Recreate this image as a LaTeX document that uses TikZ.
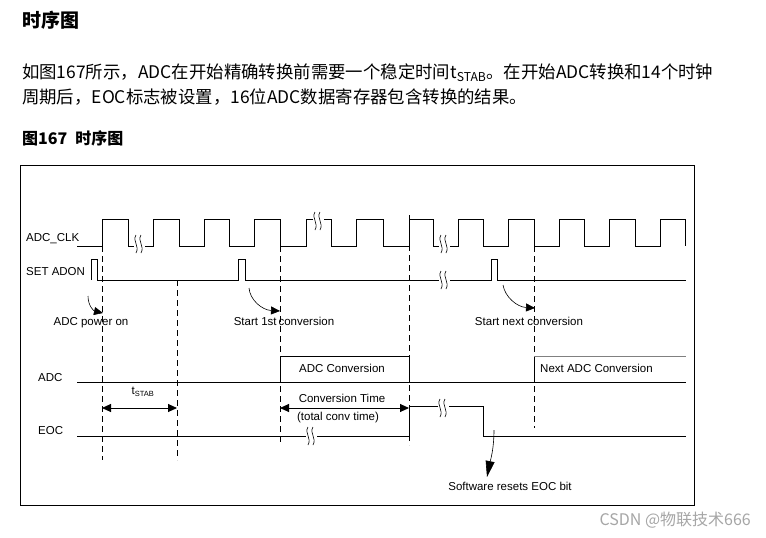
\documentclass[tikz,border=0pt]{standalone}
\usepackage{fontspec}
\setmainfont{Liberation Sans}
\newfontfamily\cjk{Noto Sans CJK SC}
\usetikzlibrary{arrows.meta}
\begin{document}
\begin{tikzpicture}[x=1pt,y=-1pt,
  sig/.style={line width=0.8pt},
  dline/.style={line width=0.7pt,dash pattern=on 6pt off 4pt},
  lbl/.style={font=\fontsize{11.5}{12}\selectfont,inner sep=0pt},
  dim/.style={line width=0.9pt,{Triangle[length=9pt,width=8pt]}-{Triangle[length=9pt,width=8pt]}},
  carr/.style={line width=0.6pt,-{Triangle[length=9pt,width=8pt]}},
  brk/.pic={\draw[line width=0.6pt,fill=white,draw=white] (-3,-9) rectangle (7,9);
            \draw[line width=0.6pt] (-1,-9) .. controls (-5,-3) and (3,2) .. (-1,9);
            \draw[line width=0.6pt] (4,-9) .. controls (0,-3) and (8,2) .. (4,9);}]
\useasboundingbox (0,0) rectangle (766,538);
\fill[white] (0,0) rectangle (766,538);
% header text
\node[anchor=west,inner sep=0pt,font=\cjk\bfseries\fontsize{19}{21}\selectfont] (h1) at (22,20) {时序图};
\node[anchor=west,inner sep=0pt,font=\cjk\fontsize{17.4}{19}\selectfont] (p1) at (22,73) {如图167所示，ADC在开始精确转换前需要一个稳定时间t\textsubscript{STAB}。在开始ADC转换和14个时钟};
\node[anchor=west,inner sep=0pt,font=\cjk\fontsize{17.4}{19}\selectfont] (p2) at (22,97) {周期后，EOC标志被设置，16位ADC数据寄存器包含转换的结果。};
\node[anchor=west,inner sep=0pt,font=\cjk\bfseries\fontsize{16}{18}\selectfont] (h2) at (22,138) {图167\hspace{8pt}时序图};
% frame
\draw[line width=0.9pt] (20,165) rectangle (694,505);
% labels
\node[lbl,anchor=west] (lclk) at (26,239) {ADC\_CLK};
\node[lbl,anchor=west] (ladon) at (26,272) {SET ADON};
\node[lbl,anchor=west] (ladc) at (38,378) {ADC};
\node[lbl,anchor=west] (leoc) at (38,431) {EOC};
% dashed lines
\draw[dline] (102,246) -- (102,460);
\draw[dline] (177,280) -- (177,460);
\draw[dline] (280,246) -- (280,445);
\draw[dline] (409,215) -- (409,445);
\draw[dline] (534,246) -- (534,428);
% clock
\draw[sig] (77,246) -- (102,246) -- (102,219) -- (128,219) -- (128,246) -- (153,246) -- (153,219) -- (179,219) -- (179,246)
  -- (204,246) -- (204,219) -- (229,219) -- (229,246) -- (254,246) -- (254,219) -- (280,219) -- (280,246)
  -- (306,246) -- (306,219) -- (331,219) -- (331,246) -- (356,246) -- (356,219) -- (383,219) -- (383,246)
  -- (409,246) -- (409,219) -- (433,219) -- (433,246) -- (458,246) -- (458,219) -- (483,219) -- (483,246)
  -- (508,246) -- (508,219) -- (534,219) -- (534,246) -- (559,246) -- (559,219) -- (584,219) -- (584,246)
  -- (609,246) -- (609,219) -- (635,219) -- (635,246) -- (660,246) -- (660,219) -- (685,219) -- (685,246);
\pic at (137,244) {brk};
\pic at (316,221) {brk};
\pic at (442,244) {brk};
% set adon
\draw[sig] (91,280) -- (91,259) -- (97,259) -- (97,280) -- (238,280) -- (238,259) -- (245,259) -- (245,280)
  -- (491,280) -- (491,259) -- (497,259) -- (497,280) -- (686,280);
\pic at (442,280) {brk};
% ADC
\draw[sig] (77,382) -- (280,382) -- (280,356) -- (409,356) -- (409,382) -- (280,382);
\draw[sig] (409,382) -- (686,382);
\draw[sig] (534,382) -- (534,356);
\draw[line width=0.8pt,gray] (534,356) -- (686,356);
\node[lbl] (adcc) at (342,368) {ADC Conversion};
\node[lbl,anchor=west] (nadc) at (540,368) {Next ADC Conversion};
% EOC
\draw[sig] (77,436) -- (409,436) -- (409,406) -- (483,406) -- (483,436) -- (686,436);
\pic at (309,436) {brk};
\pic at (441,408) {brk};
% dimension arrows
\coordinate (ts1) at (102,408); \coordinate (ts2) at (177,408);
\draw[dim] (ts1) -- (ts2);
\node[lbl] (tstab) at (143,392) {t\textsubscript{\fontsize{7.5}{8}\selectfont STAB}};
\coordinate (ct1) at (280,408); \coordinate (ct2) at (409,408);
\draw[dim] (ct1) -- (ct2);
\node[lbl] (ctime) at (342,398) {Conversion Time};
\node[lbl] (ctot) at (338,418) {(total conv time)};
% curved arrows
\coordinate (a1s) at (88,296); \coordinate (a1e) at (103,313);
\draw[carr] (a1s) .. controls (88,306) and (94,311) .. (a1e);
\node[lbl] (pow) at (91,323) {ADC power on};
\coordinate (a2s) at (249,288); \coordinate (a2e) at (280,311);
\draw[carr] (a2s) .. controls (250,300) and (262,310) .. (a2e);
\node[lbl] (s1) at (284,321) {Start 1st\,conversion};
\coordinate (a3s) at (503,285); \coordinate (a3e) at (535,308);
\draw[carr] (a3s) .. controls (505,297) and (517,307) .. (a3e);
\node[lbl] (sn) at (529,321) {Start next conversion};
\coordinate (a4s) at (494,430); \coordinate (a4e) at (487,477);
\draw[line width=0.6pt,-{Triangle[length=16pt,width=9pt]}] (a4s) .. controls (494,450) and (490,462) .. (a4e);
\node[lbl] (sw) at (510,486) {Software resets EOC bit};
% watermark
\node[anchor=east,inner sep=0pt,text=gray!70,font=\cjk\fontsize{16}{17}\selectfont] (wm) at (751,520) {CSDN @物联技术666};
\end{tikzpicture}
\end{document}
